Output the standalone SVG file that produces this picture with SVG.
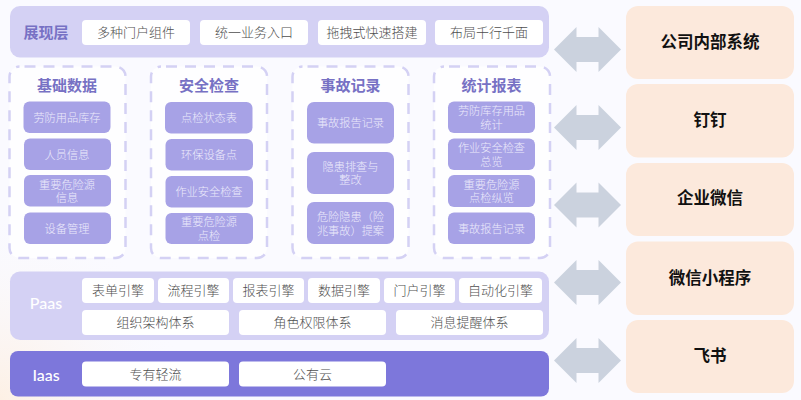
<svg xmlns="http://www.w3.org/2000/svg" width="801" height="400" viewBox="0 0 801 400">
<defs>
<radialGradient id="peach" gradientUnits="userSpaceOnUse" cx="0" cy="400" r="190"><stop offset="0" stop-color="#fdf0e4"/><stop offset="1" stop-color="#fafaff" stop-opacity="0"/></radialGradient>
<path id="arrow" d="M-33.500 0L-11 -22.500V-12.500H11V-22.500L33.500 0L11 22.500V12.500H-11V22.500Z" fill="#cbd2de"/>
</defs>
<style>
text{font-family:"Noto Sans CJK SC","Noto Sans",sans-serif;text-anchor:middle;dominant-baseline:central;transform:translateY(-.8px)}
.panel{fill:#d4d1f4}.dark{fill:#7d77db}
.w{fill:#fff}
.wt{font-size:13px;font-weight:300;fill:#4f4f4f}
.dash{fill:#fff;fill-opacity:.8;stroke:#d4d1f4;stroke-width:2.500;stroke-dasharray:11 8;stroke-dashoffset:-5}
.head{font-size:15px;font-weight:700;fill:#7771c4}
.c{fill:#a7a2e6}
.ct{font-size:11.200px;font-weight:300;fill:#eceafb}
.ext{fill:#fce9dc}
.et{font-size:16.500px;font-weight:700;fill:#111}
.lab{font-family:Lato,"Noto Sans",sans-serif;font-size:16px;font-weight:500;fill:#fff}
</style>
<rect width="801" height="400" fill="#fafaff"/>
<rect width="801" height="400" fill="url(#peach)"/>
<g id="connectors">
<use href="#arrow" x="587.500" y="49.500"/>
<use href="#arrow" x="587.500" y="127.500"/>
<use href="#arrow" x="587.500" y="205"/>
<use href="#arrow" x="587.500" y="282.500"/>
<use href="#arrow" x="587.500" y="360.500"/>
</g>
<g id="layer-presentation">
<rect class="panel" x="10" y="6" width="539" height="51.500" rx="10"/>
<text class="head" x="46" y="32">展现层</text>
<rect class="w" x="82" y="20" width="108" height="25" rx="4"/><text class="wt" x="136" y="32.500">多种门户组件</text>
<rect class="w" x="200" y="20" width="108" height="25" rx="4"/><text class="wt" x="254" y="32.500">统一业务入口</text>
<rect class="w" x="318" y="20" width="108" height="25" rx="4"/><text class="wt" x="372" y="32.500">拖拽式快速搭建</text>
<rect class="w" x="435" y="20" width="108" height="25" rx="4"/><text class="wt" x="489" y="32.500">布局千行千面</text>
</g>
<g id="group-base">
<rect class="dash" x="9.500" y="66.500" width="116" height="191.500" rx="10"/>
<text class="head" x="67" y="85">基础数据</text>
<rect class="c" x="23.500" y="101.500" width="87" height="31.500" rx="6"/><text class="ct" x="67" y="117.500">劳防用品库存</text>
<rect class="c" x="24" y="138.500" width="87" height="31.500" rx="6"/><text class="ct" x="67" y="154.500">人员信息</text>
<rect class="c" x="24" y="175" width="87" height="31.500" rx="6"/><text class="ct" x="67" y="184.500">重要危险源</text><text class="ct" x="67" y="198">信息</text>
<rect class="c" x="24" y="212.500" width="87" height="31.500" rx="6"/><text class="ct" x="67" y="228.500">设备管理</text>
</g>
<g id="group-safety">
<rect class="dash" x="151" y="66.500" width="116" height="191.500" rx="10"/>
<text class="head" x="209" y="85">安全检查</text>
<rect class="c" x="165" y="102" width="87.500" height="31.500" rx="6"/><text class="ct" x="209" y="118">点检状态表</text>
<rect class="c" x="165.500" y="139" width="87.500" height="31.500" rx="6"/><text class="ct" x="209" y="155">环保设备点</text>
<rect class="c" x="165.500" y="176" width="87.500" height="31.500" rx="6"/><text class="ct" x="209" y="192">作业安全检查</text>
<rect class="c" x="165.500" y="213" width="87.500" height="31" rx="6"/><text class="ct" x="209" y="222">重要危险源</text><text class="ct" x="209" y="235.500">点检</text>
</g>
<g id="group-incident">
<rect class="dash" x="292.500" y="66.500" width="116" height="191.500" rx="10"/>
<text class="head" x="350.500" y="85">事故记录</text>
<rect class="c" x="307" y="102" width="87" height="41.500" rx="7"/><text class="ct" x="350.500" y="123">事故报告记录</text>
<rect class="c" x="307" y="152" width="87" height="42" rx="7"/><text class="ct" x="350.500" y="167">隐患排查与</text><text class="ct" x="350.500" y="180">整改</text>
<rect class="c" x="307" y="202" width="87" height="42" rx="7"/><text class="ct" x="350.500" y="216.500">危险隐患（险</text><text class="ct" x="350.500" y="230.500">兆事故）提案</text>
</g>
<g id="group-report">
<rect class="dash" x="434" y="66.500" width="116" height="191.500" rx="10"/>
<text class="head" x="491.500" y="85">统计报表</text>
<rect class="c" x="448" y="101.500" width="87" height="31.500" rx="6"/><text class="ct" x="491.500" y="110.500">劳防库存用品</text><text class="ct" x="491.500" y="124.500">统计</text>
<rect class="c" x="448" y="138.500" width="87" height="31.500" rx="6"/><text class="ct" x="491.500" y="147.500">作业安全检查</text><text class="ct" x="491.500" y="161.500">总览</text>
<rect class="c" x="448" y="175" width="87" height="32" rx="6"/><text class="ct" x="491.500" y="184.500">重要危险源</text><text class="ct" x="491.500" y="198">点检纵览</text>
<rect class="c" x="448" y="212.500" width="87" height="31.500" rx="6"/><text class="ct" x="491.500" y="228.500">事故报告记录</text>
</g>
<g id="layer-paas">
<rect class="panel" x="10" y="271.500" width="539" height="68.500" rx="10"/>
<text class="lab" x="46" y="303.500">Paas</text>
<rect class="w" x="82" y="278" width="72" height="25" rx="4"/><text class="wt" x="118" y="290.500">表单引擎</text>
<rect class="w" x="158" y="278" width="71" height="25" rx="4"/><text class="wt" x="193.500" y="290.500">流程引擎</text>
<rect class="w" x="233" y="278" width="71" height="25" rx="4"/><text class="wt" x="268.500" y="290.500">报表引擎</text>
<rect class="w" x="308" y="278" width="72" height="25" rx="4"/><text class="wt" x="344" y="290.500">数据引擎</text>
<rect class="w" x="384" y="278" width="71" height="25" rx="4"/><text class="wt" x="419.500" y="290.500">门户引擎</text>
<rect class="w" x="459" y="278" width="83" height="25" rx="4"/><text class="wt" x="500.500" y="290.500">自动化引擎</text>
<rect class="w" x="82" y="310" width="147" height="25" rx="4"/><text class="wt" x="155.500" y="322.500">组织架构体系</text>
<rect class="w" x="239" y="310" width="147" height="25" rx="4"/><text class="wt" x="312.500" y="322.500">角色权限体系</text>
<rect class="w" x="396" y="310" width="147" height="25" rx="4"/><text class="wt" x="469.500" y="322.500">消息提醒体系</text>
</g>
<g id="layer-iaas">
<rect class="dark" x="10" y="351" width="539" height="45.500" rx="8"/>
<text class="lab" x="46" y="375">Iaas</text>
<rect class="w" x="82" y="361.500" width="147" height="25" rx="4"/><text class="wt" x="155.500" y="374">专有轻流</text>
<rect class="w" x="239" y="361.500" width="147" height="25" rx="4"/><text class="wt" x="312.500" y="374">公有云</text>
</g>
<g id="ext-internal"><rect class="ext" x="626" y="6" width="168" height="73" rx="12"/><text class="et" x="710" y="42">公司内部系统</text></g>
<g id="ext-dingtalk"><rect class="ext" x="626" y="84" width="168" height="73.500" rx="12"/><text class="et" x="710" y="120">钉钉</text></g>
<g id="ext-wecom"><rect class="ext" x="626" y="163" width="168" height="73" rx="12"/><text class="et" x="710" y="198">企业微信</text></g>
<g id="ext-miniapp"><rect class="ext" x="626" y="241.500" width="168" height="73.500" rx="12"/><text class="et" x="710" y="277.500">微信小程序</text></g>
<g id="ext-feishu"><rect class="ext" x="626" y="320" width="168" height="73" rx="12"/><text class="et" x="710" y="356">飞书</text></g>
</svg>
